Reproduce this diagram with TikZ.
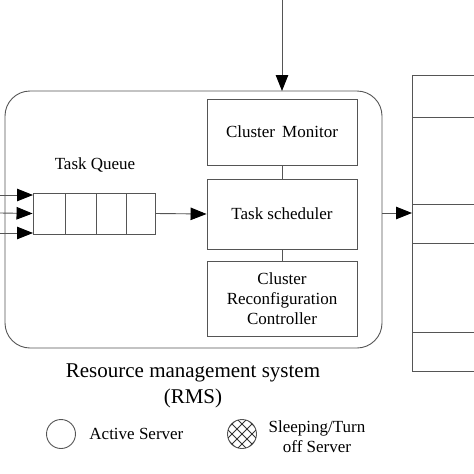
\documentclass[tikz,border=0pt]{standalone}
\usepackage{fontspec}
\setmainfont{Liberation Serif}
\usetikzlibrary{arrows.meta,positioning,calc}
\definecolor{ln}{HTML}{555555}
\begin{document}
\begin{tikzpicture}[x=1pt,y=-1pt,color=ln,line width=0.9pt,
  every node/.style={text=black},
  arr/.style={-{Triangle[length=16pt,width=12.5pt,fill=black,color=black]}},
  box/.style={draw=ln,rectangle,minimum width=150pt,inner sep=0pt,align=center,font=\fontsize{17}{20}\selectfont},
  lbl/.style={inner sep=0pt,align=center,font=\fontsize{17}{20}\selectfont},
]
\useasboundingbox (0,0) rectangle (474,474);
% RMS rounded container
\draw[rounded corners=25pt] (5,91) rectangle (382,348);
\coordinate (rmstop) at (282,91);
\coordinate (rmsright) at (382,213);
\coordinate (topin) at (282,0);
% boxes
\node[box,minimum height=66pt] (mon) at (282,132) {Cluster\, Monitor};
\node[box,minimum height=70pt] (sch) at (282,214) {Task scheduler};
\node[box,minimum height=75pt] (rec) at (282,298.5) {Cluster\\Reconfiguration\\Controller};
\draw (mon.south) -- (sch.north);
\draw (sch.south) -- (rec.north);
% task queue
\node[draw=ln,minimum width=122pt,minimum height=41pt,inner sep=0pt] (q) at (94,213.5) {};
\foreach \x in {65,96,126} \draw (\x,193) -- (\x,234);
\node[lbl] (ql) at (95,165) {Task Queue};
\coordinate (in1) at (0,195);
\coordinate (in2) at (0,213);
\coordinate (in3) at (0,233);
\coordinate (q1) at (33,195);
\coordinate (q3) at (33,233);
\draw[arr] (in1) -- (q1);
\draw[arr] (in2) -- (q.west);
\draw[arr] (in3) -- (q3);
\draw[arr] (q.east) -- (sch.west);
\draw[arr] (topin) -- (rmstop);
% server rack
\draw (474,75) -- (412,75) -- (412,371) -- (474,371);
\foreach \y in {117,204,243,332} \draw (412,\y) -- (474,\y);
\coordinate (srv) at (412,213);
\draw[arr] (rmsright) -- (srv);
% captions
\node[lbl,font=\fontsize{21}{26}\selectfont] (rms) at (193,386) {Resource management system\\(RMS)};
% legend
\node[circle,draw=ln,minimum size=29pt,inner sep=0pt] (act) at (61,434) {};
\node[lbl,anchor=west] (actl) at (89,434) {Active Server};
\node[circle,draw=ln,minimum size=29pt,inner sep=0pt] (slp) at (242,434) {};
\begin{scope}
\clip (242,434) circle (14.5pt);
\foreach \d in {-40,-30,...,40} {
  \draw[line width=0.9pt,color=black!80] ($(242,434)+(\d,0)+(-30,-30)$) -- ++(60,60);
  \draw[line width=0.9pt,color=black!80] ($(242,434)+(\d,0)+(-30,30)$) -- ++(60,-60);
}
\end{scope}
\node[lbl] (slpl) at (317,437) {Sleeping/Turn\\off Server};
\end{tikzpicture}
\end{document}
